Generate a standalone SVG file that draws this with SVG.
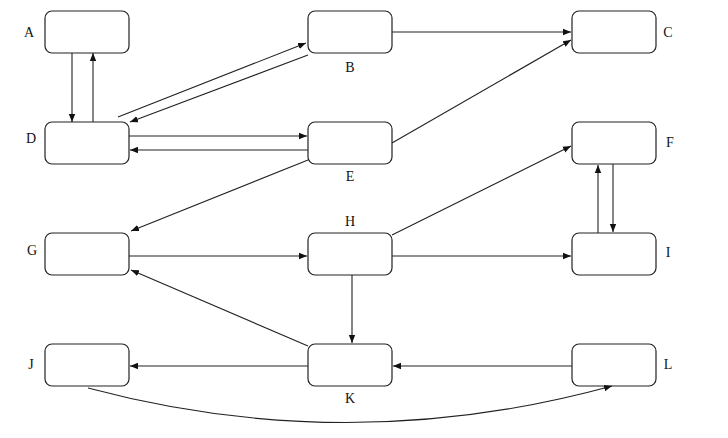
<svg xmlns="http://www.w3.org/2000/svg" width="728" height="438" viewBox="0 0 728 438">
<style>
.n{fill:#fff;stroke:#222;stroke-width:1.2}
.t{font-family:"Liberation Serif",serif;font-size:14px;fill:#111;text-anchor:middle}
.c line,.c path{stroke:#222;stroke-width:1.1;fill:none;marker-end:url(#ah)}
</style>
<defs><marker id="ah" viewBox="0 0 10 10" refX="10" refY="5" markerWidth="8" markerHeight="8" orient="auto" markerUnits="userSpaceOnUse"><path d="M0,1 L10,5 L0,9 z" fill="#111"/></marker></defs>
<rect width="728" height="438" fill="#fff"/>
<g id="A"><rect class="n" x="45" y="11" width="84" height="42" rx="7"/><text class="t" x="29" y="37">A</text></g>
<g id="B"><rect class="n" x="308" y="11" width="84" height="42" rx="7"/><text class="t" x="350" y="72">B</text></g>
<g id="C"><rect class="n" x="572" y="11" width="84" height="42" rx="7"/><text class="t" x="668" y="37">C</text></g>
<g id="D"><rect class="n" x="45" y="122" width="84" height="42" rx="7"/><text class="t" x="31" y="143">D</text></g>
<g id="E"><rect class="n" x="308" y="122" width="84" height="42" rx="7"/><text class="t" x="350" y="181">E</text></g>
<g id="F"><rect class="n" x="572" y="122" width="84" height="42" rx="7"/><text class="t" x="670" y="147">F</text></g>
<g id="G"><rect class="n" x="45" y="233" width="84" height="42" rx="7"/><text class="t" x="32" y="255">G</text></g>
<g id="H"><rect class="n" x="308" y="233" width="84" height="42" rx="7"/><text class="t" x="350" y="226">H</text></g>
<g id="I"><rect class="n" x="572" y="233" width="84" height="42" rx="7"/><text class="t" x="668" y="257">I</text></g>
<g id="J"><rect class="n" x="45" y="344" width="84" height="42" rx="7"/><text class="t" x="31" y="369">J</text></g>
<g id="K"><rect class="n" x="308" y="344" width="84" height="42" rx="7"/><text class="t" x="350" y="403">K</text></g>
<g id="L"><rect class="n" x="572" y="344" width="84" height="42" rx="7"/><text class="t" x="668" y="369">L</text></g>
<g class="c">
<line x1="72" y1="53" x2="72" y2="122"/>
<line x1="93" y1="122" x2="93" y2="53"/>
<line x1="118" y1="117" x2="306" y2="43"/>
<line x1="308" y1="55" x2="130" y2="122"/>
<line x1="392" y1="32" x2="571" y2="32"/>
<line x1="129" y1="136" x2="307" y2="136"/>
<line x1="308" y1="150" x2="130" y2="150"/>
<line x1="392" y1="143" x2="571" y2="40"/>
<line x1="308" y1="160" x2="131" y2="231"/>
<line x1="392" y1="235" x2="571" y2="146"/>
<line x1="613" y1="164" x2="613" y2="232"/>
<line x1="598" y1="233" x2="598" y2="165"/>
<line x1="129" y1="256" x2="307" y2="256"/>
<line x1="392" y1="256" x2="571" y2="256"/>
<line x1="352" y1="275" x2="352" y2="343"/>
<line x1="308" y1="346" x2="131" y2="270"/>
<line x1="308" y1="366" x2="130" y2="366"/>
<line x1="572" y1="366" x2="393" y2="366"/>
<path d="M88,388 Q350,458 612,386"/>
</g>
</svg>
